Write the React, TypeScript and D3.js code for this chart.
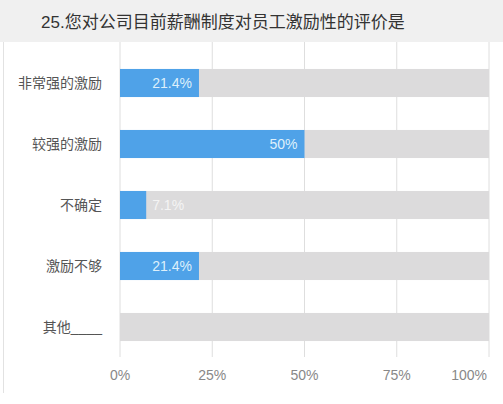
import React from "react";
import * as d3 from "d3";

const title = "25.您对公司目前薪酬制度对员工激励性的评价是";
const categories = ["非常强的激励", "较强的激励", "不确定", "激励不够", "其他____"];
const values = [21.4, 50, 7.1, 21.4, 0];
const ticks = [0, 25, 50, 75, 100];

const W = 503;
const H = 404;
const FONT = "'Liberation Sans', 'Noto Sans CJK SC', sans-serif";

export default function App() {
  const x = d3.scaleLinear().domain([0, 100]).range([120, 489]);
  const y = d3
    .scaleBand<string>()
    .domain(categories)
    .range([52.5, 357.5])
    .paddingInner(0.54)
    .paddingOuter(0.27);
  const bh = y.bandwidth();

  return (
    <svg
      width={W}
      height={H}
      style={{ position: "absolute", left: 0, top: 0, background: "#fff" }}
      fontFamily={FONT}
    >
      <rect x={0} y={0} width={W} height={42} fill="#f0f0f0" />
      <text x={41} y={28} fontSize={17} fill="#333">
        {title}
      </text>
      <line x1={3.5} x2={3.5} y1={42} y2={393} stroke="#e2e2e2" strokeWidth={1} />
      {ticks.map((t, i) => {
        const last = i === ticks.length - 1;
        return (
          <g key={t}>
            <line
              x1={x(t)}
              x2={x(t)}
              y1={42}
              y2={357}
              stroke="#dedede"
              strokeWidth={1}
            />
            <text
              x={last ? x(t) - 2 : x(t)}
              y={380}
              fontSize={14}
              fill="#888"
              textAnchor={last ? "end" : "middle"}
            >
              {t + "%"}
            </text>
          </g>
        );
      })}
      {categories.map((c, i) => {
        const v = values[i];
        const y0 = y(c)!;
        const xe = x(v);
        const inside = xe - x(0) > 40;
        return (
          <g key={c}>
            <rect x={x(0)} y={y0} width={x(100) - x(0)} height={bh} fill="#dcdbdc" />
            {v > 0 && (
              <rect x={x(0)} y={y0} width={xe - x(0)} height={bh} fill="#4fa2e8" />
            )}
            {v > 0 && (
              <text
                x={inside ? xe - 7 : xe + 6}
                y={y0 + bh / 2 + 5}
                fontSize={14}
                fill={inside ? "#def0fb" : "#f4f4f4"}
                textAnchor={inside ? "end" : "start"}
              >
                {v + "%"}
              </text>
            )}
            <text
              x={102}
              y={y0 + bh / 2 + 5}
              fontSize={14}
              fill="#555"
              textAnchor="end"
            >
              {c}
            </text>
          </g>
        );
      })}
    </svg>
  );
}
